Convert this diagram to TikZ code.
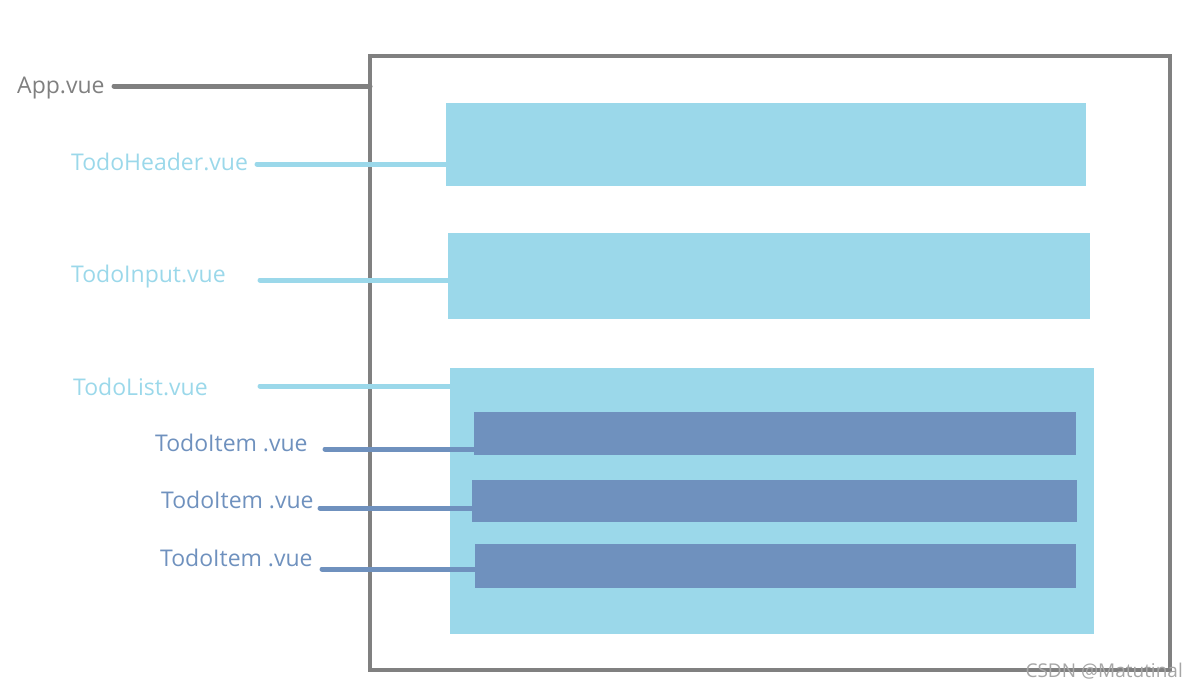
\documentclass[tikz,border=0pt]{standalone}
\usepackage{fontspec}
\setmainfont{Open Sans}
\usetikzlibrary{calc}
\definecolor{appgray}{HTML}{808080}
\definecolor{compcyan}{HTML}{9BD8EA}
\definecolor{itemblue}{HTML}{6F91BE}
\tikzset{ frm/.style = { rectangle % app frame
, draw = appgray
, line width = 4.5pt
, outer sep = 0pt
}
, cmp/.style = { rectangle % component box
, fill = compcyan
, anchor = north west
, inner sep = 0pt
}
, itm/.style = { rectangle % item box
, fill = itemblue
, anchor = north west
, inner sep = 0pt
}
, lbl/.style = { anchor = base west % label
, inner sep = 0pt
, font = \fontsize{23}{28}\selectfont
}
, con/.style = { line width = 5pt % connector
, line cap = round
}
}
\def\comp(#1,#2,#3,#4)#5{% component box
\node[cmp, minimum width=#3pt, minimum height=#4pt] (#5) at (#1,#2) {};
}
\begin{document}
\begin{tikzpicture}[x=1pt, y=-1pt]
                    \useasboundingbox (0,0) rectangle (1199,686);
                    \node[frm, anchor=north west, minimum width=800pt, minimum height=614pt] (app) at (370,56) {};

                    \comp(446,103,640,83){hdr}
                    \comp(448,233,642,86){inp}
                    \comp(450,368,644,266){lst}
                    \node[itm, minimum width=602pt, minimum height=43pt] (it1) at (474,412) {};
                    \node[itm, minimum width=605pt, minimum height=42pt] (it2) at (472,480) {};
                    \node[itm, minimum width=601pt, minimum height=44pt] (it3) at (475,544) {};

                    \node[lbl, text=appgray] (lapp) at (17,93) {App.vue};
                    \node[lbl, text=compcyan] (lhdr) at (71,170) {TodoHeader.vue};
                    \node[lbl, text=compcyan] (linp) at (71,282) {TodoInput.vue};
                    \node[lbl, text=compcyan] (llst) at (73,395) {TodoList.vue};
                    \node[lbl, text=itemblue] (lit1) at (155,451) {TodoItem .vue};
                    \node[lbl, text=itemblue] (lit2) at (161,508) {TodoItem .vue};
                    \node[lbl, text=itemblue] (lit3) at (160,566) {TodoItem .vue};

                    \coordinate (sapp) at (114,86);
                    \coordinate (shdr) at (257,164);
                    \coordinate (sinp) at (260,280);
                    \coordinate (slst) at (260,386);
                    \coordinate (sit1) at (325,449);
                    \coordinate (sit2) at (320,508);
                    \coordinate (sit3) at (322,569);

                    \draw[con, appgray] (sapp) -- (sapp -| app.west);
                    \foreach \n in {hdr, inp, lst} \draw[con, compcyan] (s\n) -- (s\n -| \n.west);
                    \foreach \n in {it1, it2, it3} \draw[con, itemblue] (s\n) -- (s\n -| \n.west);

                    \node[anchor=base east, inner sep=0pt, text=black!35, font=\fontsize{19}{22}\selectfont] (wm) at (1183,677) {CSDN @Matutinal};
                \end{tikzpicture}
\end{document}
